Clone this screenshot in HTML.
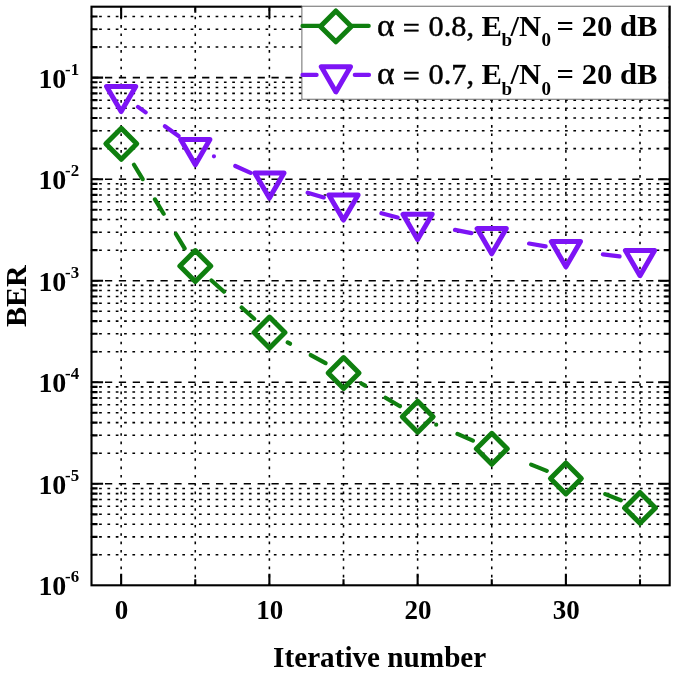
<!DOCTYPE html>
<html><head><meta charset="utf-8"><title>BER vs Iterative number</title>
<style>html,body{margin:0;padding:0;background:#fff}body{width:675px;height:674px;overflow:hidden}</style></head>
<body>
<svg width="675" height="674" viewBox="0 0 675 674" style="display:block">
<rect x="0" y="0" width="675" height="674" fill="#fff"/>
<g stroke="#000" fill="none">
<line x1="90.8" x2="669.7" y1="554.74" y2="554.74" stroke-width="1.55" stroke-dasharray="2.7 5.62"/>
<line x1="90.8" x2="669.7" y1="536.86" y2="536.86" stroke-width="1.55" stroke-dasharray="2.7 5.62"/>
<line x1="90.8" x2="669.7" y1="524.17" y2="524.17" stroke-width="1.55" stroke-dasharray="2.7 5.62"/>
<line x1="90.8" x2="669.7" y1="514.33" y2="514.33" stroke-width="1.55" stroke-dasharray="2.7 5.62"/>
<line x1="90.8" x2="669.7" y1="506.29" y2="506.29" stroke-width="1.55" stroke-dasharray="2.7 5.62"/>
<line x1="90.8" x2="669.7" y1="499.50" y2="499.50" stroke-width="1.55" stroke-dasharray="2.7 5.62"/>
<line x1="90.8" x2="669.7" y1="493.61" y2="493.61" stroke-width="1.55" stroke-dasharray="2.7 5.62"/>
<line x1="90.8" x2="669.7" y1="488.42" y2="488.42" stroke-width="1.55" stroke-dasharray="2.7 5.62"/>
<line x1="91.1" x2="669.7" y1="483.77" y2="483.77" stroke-width="1.6" stroke-dasharray="7.25 6.625"/>
<line x1="90.8" x2="669.7" y1="453.21" y2="453.21" stroke-width="1.55" stroke-dasharray="2.7 5.62"/>
<line x1="90.8" x2="669.7" y1="435.33" y2="435.33" stroke-width="1.55" stroke-dasharray="2.7 5.62"/>
<line x1="90.8" x2="669.7" y1="422.64" y2="422.64" stroke-width="1.55" stroke-dasharray="2.7 5.62"/>
<line x1="90.8" x2="669.7" y1="412.80" y2="412.80" stroke-width="1.55" stroke-dasharray="2.7 5.62"/>
<line x1="90.8" x2="669.7" y1="404.76" y2="404.76" stroke-width="1.55" stroke-dasharray="2.7 5.62"/>
<line x1="90.8" x2="669.7" y1="397.97" y2="397.97" stroke-width="1.55" stroke-dasharray="2.7 5.62"/>
<line x1="90.8" x2="669.7" y1="392.08" y2="392.08" stroke-width="1.55" stroke-dasharray="2.7 5.62"/>
<line x1="90.8" x2="669.7" y1="386.89" y2="386.89" stroke-width="1.55" stroke-dasharray="2.7 5.62"/>
<line x1="91.1" x2="669.7" y1="382.24" y2="382.24" stroke-width="1.6" stroke-dasharray="7.25 6.625"/>
<line x1="90.8" x2="669.7" y1="351.68" y2="351.68" stroke-width="1.55" stroke-dasharray="2.7 5.62"/>
<line x1="90.8" x2="669.7" y1="333.80" y2="333.80" stroke-width="1.55" stroke-dasharray="2.7 5.62"/>
<line x1="90.8" x2="669.7" y1="321.11" y2="321.11" stroke-width="1.55" stroke-dasharray="2.7 5.62"/>
<line x1="90.8" x2="669.7" y1="311.27" y2="311.27" stroke-width="1.55" stroke-dasharray="2.7 5.62"/>
<line x1="90.8" x2="669.7" y1="303.23" y2="303.23" stroke-width="1.55" stroke-dasharray="2.7 5.62"/>
<line x1="90.8" x2="669.7" y1="296.44" y2="296.44" stroke-width="1.55" stroke-dasharray="2.7 5.62"/>
<line x1="90.8" x2="669.7" y1="290.55" y2="290.55" stroke-width="1.55" stroke-dasharray="2.7 5.62"/>
<line x1="90.8" x2="669.7" y1="285.36" y2="285.36" stroke-width="1.55" stroke-dasharray="2.7 5.62"/>
<line x1="91.1" x2="669.7" y1="280.71" y2="280.71" stroke-width="1.6" stroke-dasharray="7.25 6.625"/>
<line x1="90.8" x2="669.7" y1="250.15" y2="250.15" stroke-width="1.55" stroke-dasharray="2.7 5.62"/>
<line x1="90.8" x2="669.7" y1="232.27" y2="232.27" stroke-width="1.55" stroke-dasharray="2.7 5.62"/>
<line x1="90.8" x2="669.7" y1="219.58" y2="219.58" stroke-width="1.55" stroke-dasharray="2.7 5.62"/>
<line x1="90.8" x2="669.7" y1="209.74" y2="209.74" stroke-width="1.55" stroke-dasharray="2.7 5.62"/>
<line x1="90.8" x2="669.7" y1="201.70" y2="201.70" stroke-width="1.55" stroke-dasharray="2.7 5.62"/>
<line x1="90.8" x2="669.7" y1="194.91" y2="194.91" stroke-width="1.55" stroke-dasharray="2.7 5.62"/>
<line x1="90.8" x2="669.7" y1="189.02" y2="189.02" stroke-width="1.55" stroke-dasharray="2.7 5.62"/>
<line x1="90.8" x2="669.7" y1="183.83" y2="183.83" stroke-width="1.55" stroke-dasharray="2.7 5.62"/>
<line x1="91.1" x2="669.7" y1="179.18" y2="179.18" stroke-width="1.6" stroke-dasharray="7.25 6.625"/>
<line x1="90.8" x2="669.7" y1="148.62" y2="148.62" stroke-width="1.55" stroke-dasharray="2.7 5.62"/>
<line x1="90.8" x2="669.7" y1="130.74" y2="130.74" stroke-width="1.55" stroke-dasharray="2.7 5.62"/>
<line x1="90.8" x2="669.7" y1="118.05" y2="118.05" stroke-width="1.55" stroke-dasharray="2.7 5.62"/>
<line x1="90.8" x2="669.7" y1="108.21" y2="108.21" stroke-width="1.55" stroke-dasharray="2.7 5.62"/>
<line x1="90.8" x2="669.7" y1="100.17" y2="100.17" stroke-width="1.55" stroke-dasharray="2.7 5.62"/>
<line x1="90.8" x2="669.7" y1="93.38" y2="93.38" stroke-width="1.55" stroke-dasharray="2.7 5.62"/>
<line x1="90.8" x2="669.7" y1="87.49" y2="87.49" stroke-width="1.55" stroke-dasharray="2.7 5.62"/>
<line x1="90.8" x2="669.7" y1="82.30" y2="82.30" stroke-width="1.55" stroke-dasharray="2.7 5.62"/>
<line x1="91.1" x2="669.7" y1="77.65" y2="77.65" stroke-width="1.6" stroke-dasharray="7.25 6.625"/>
<line x1="90.8" x2="669.7" y1="47.09" y2="47.09" stroke-width="1.55" stroke-dasharray="2.7 5.62"/>
<line x1="90.8" x2="669.7" y1="29.21" y2="29.21" stroke-width="1.55" stroke-dasharray="2.7 5.62"/>
<line x1="90.8" x2="669.7" y1="16.52" y2="16.52" stroke-width="1.55" stroke-dasharray="2.7 5.62"/>
<line x1="121.15" x2="121.15" y1="585.8" y2="6.7" stroke-width="1.55" stroke-dasharray="2.6 5.73"/>
<line x1="195.27" x2="195.27" y1="585.8" y2="6.7" stroke-width="1.55" stroke-dasharray="2.6 5.73"/>
<line x1="269.39" x2="269.39" y1="585.8" y2="6.7" stroke-width="1.55" stroke-dasharray="2.6 5.73"/>
<line x1="343.51" x2="343.51" y1="585.8" y2="6.7" stroke-width="1.55" stroke-dasharray="2.6 5.73"/>
<line x1="417.64" x2="417.64" y1="585.8" y2="6.7" stroke-width="1.55" stroke-dasharray="2.6 5.73"/>
<line x1="491.76" x2="491.76" y1="585.8" y2="6.7" stroke-width="1.55" stroke-dasharray="2.6 5.73"/>
<line x1="565.88" x2="565.88" y1="585.8" y2="6.7" stroke-width="1.55" stroke-dasharray="2.6 5.73"/>
<line x1="640.00" x2="640.00" y1="585.8" y2="6.7" stroke-width="1.55" stroke-dasharray="2.6 5.73"/>
</g>
<g stroke="#000" fill="none" stroke-width="2.1">
<rect x="91.5" y="6.7" width="578.2" height="578.5999999999999"/>
<path d="M91.5 554.74h6.0M669.7 554.74h-6.0"/>
<path d="M91.5 536.86h6.0M669.7 536.86h-6.0"/>
<path d="M91.5 524.17h6.0M669.7 524.17h-6.0"/>
<path d="M91.5 514.33h6.0M669.7 514.33h-6.0"/>
<path d="M91.5 506.29h6.0M669.7 506.29h-6.0"/>
<path d="M91.5 499.50h6.0M669.7 499.50h-6.0"/>
<path d="M91.5 493.61h6.0M669.7 493.61h-6.0"/>
<path d="M91.5 488.42h6.0M669.7 488.42h-6.0"/>
<path d="M91.5 483.77h11.6M669.7 483.77h-11.6"/>
<path d="M91.5 453.21h6.0M669.7 453.21h-6.0"/>
<path d="M91.5 435.33h6.0M669.7 435.33h-6.0"/>
<path d="M91.5 422.64h6.0M669.7 422.64h-6.0"/>
<path d="M91.5 412.80h6.0M669.7 412.80h-6.0"/>
<path d="M91.5 404.76h6.0M669.7 404.76h-6.0"/>
<path d="M91.5 397.97h6.0M669.7 397.97h-6.0"/>
<path d="M91.5 392.08h6.0M669.7 392.08h-6.0"/>
<path d="M91.5 386.89h6.0M669.7 386.89h-6.0"/>
<path d="M91.5 382.24h11.6M669.7 382.24h-11.6"/>
<path d="M91.5 351.68h6.0M669.7 351.68h-6.0"/>
<path d="M91.5 333.80h6.0M669.7 333.80h-6.0"/>
<path d="M91.5 321.11h6.0M669.7 321.11h-6.0"/>
<path d="M91.5 311.27h6.0M669.7 311.27h-6.0"/>
<path d="M91.5 303.23h6.0M669.7 303.23h-6.0"/>
<path d="M91.5 296.44h6.0M669.7 296.44h-6.0"/>
<path d="M91.5 290.55h6.0M669.7 290.55h-6.0"/>
<path d="M91.5 285.36h6.0M669.7 285.36h-6.0"/>
<path d="M91.5 280.71h11.6M669.7 280.71h-11.6"/>
<path d="M91.5 250.15h6.0M669.7 250.15h-6.0"/>
<path d="M91.5 232.27h6.0M669.7 232.27h-6.0"/>
<path d="M91.5 219.58h6.0M669.7 219.58h-6.0"/>
<path d="M91.5 209.74h6.0M669.7 209.74h-6.0"/>
<path d="M91.5 201.70h6.0M669.7 201.70h-6.0"/>
<path d="M91.5 194.91h6.0M669.7 194.91h-6.0"/>
<path d="M91.5 189.02h6.0M669.7 189.02h-6.0"/>
<path d="M91.5 183.83h6.0M669.7 183.83h-6.0"/>
<path d="M91.5 179.18h11.6M669.7 179.18h-11.6"/>
<path d="M91.5 148.62h6.0M669.7 148.62h-6.0"/>
<path d="M91.5 130.74h6.0M669.7 130.74h-6.0"/>
<path d="M91.5 118.05h6.0M669.7 118.05h-6.0"/>
<path d="M91.5 108.21h6.0M669.7 108.21h-6.0"/>
<path d="M91.5 100.17h6.0M669.7 100.17h-6.0"/>
<path d="M91.5 93.38h6.0M669.7 93.38h-6.0"/>
<path d="M91.5 87.49h6.0M669.7 87.49h-6.0"/>
<path d="M91.5 82.30h6.0M669.7 82.30h-6.0"/>
<path d="M91.5 77.65h11.6M669.7 77.65h-11.6"/>
<path d="M91.5 47.09h6.0M669.7 47.09h-6.0"/>
<path d="M91.5 29.21h6.0M669.7 29.21h-6.0"/>
<path d="M91.5 16.52h6.0M669.7 16.52h-6.0"/>
<path d="M121.15 585.3v-11.6M121.15 6.7v11.6"/>
<path d="M195.27 585.3v-6.0M195.27 6.7v6.0"/>
<path d="M269.39 585.3v-11.6M269.39 6.7v11.6"/>
<path d="M343.51 585.3v-6.0M343.51 6.7v6.0"/>
<path d="M417.64 585.3v-11.6M417.64 6.7v11.6"/>
<path d="M491.76 585.3v-6.0M491.76 6.7v6.0"/>
<path d="M565.88 585.3v-11.6M565.88 6.7v11.6"/>
<path d="M640.00 585.3v-6.0M640.00 6.7v6.0"/>
</g>
<path d="M184.63 248.38L175.94 234.01M163.65 213.74L154.96 199.37M142.67 179.09L133.98 164.72M254.16 318.75L241.66 307.54M224.00 291.72L211.50 280.51M325.52 363.12L310.79 355.06M289.99 343.70L287.67 342.43M399.96 406.24L385.49 397.70M365.07 385.66L361.44 383.52M472.90 440.61L457.49 433.93M436.21 424.72L436.22 424.72M546.78 470.84L531.19 464.59M620.85 500.30L605.25 494.11" stroke="#0f7f0f" stroke-width="4.2" stroke-linecap="round" fill="none"/>
<path d="M178.56 135.99L164.92 126.20M145.66 112.38L137.98 106.87M250.61 172.86L235.30 165.97M213.93 156.37L213.94 156.37M323.75 197.44L307.66 192.66M397.67 217.48L381.43 213.23M471.47 233.10L454.99 229.91M545.61 246.44L529.07 243.55M619.55 256.44L602.88 254.44" stroke="#7d14f5" stroke-width="4.2" stroke-linecap="round" fill="none"/>
<path d="M121.30 128.35L136.75 143.80L121.30 159.25L105.85 143.80Z" stroke="#0f7f0f" stroke-width="5" stroke-linejoin="round" fill="none"/>
<path d="M195.30 250.55L210.75 266.00L195.30 281.45L179.85 266.00Z" stroke="#0f7f0f" stroke-width="5" stroke-linejoin="round" fill="none"/>
<path d="M269.50 317.05L284.95 332.50L269.50 347.95L254.05 332.50Z" stroke="#0f7f0f" stroke-width="5" stroke-linejoin="round" fill="none"/>
<path d="M343.60 357.55L359.05 373.00L343.60 388.45L328.15 373.00Z" stroke="#0f7f0f" stroke-width="5" stroke-linejoin="round" fill="none"/>
<path d="M417.70 401.25L433.15 416.70L417.70 432.15L402.25 416.70Z" stroke="#0f7f0f" stroke-width="5" stroke-linejoin="round" fill="none"/>
<path d="M491.80 433.35L507.25 448.80L491.80 464.25L476.35 448.80Z" stroke="#0f7f0f" stroke-width="5" stroke-linejoin="round" fill="none"/>
<path d="M565.90 463.05L581.35 478.50L565.90 493.95L550.45 478.50Z" stroke="#0f7f0f" stroke-width="5" stroke-linejoin="round" fill="none"/>
<path d="M640.00 492.45L655.45 507.90L640.00 523.35L624.55 507.90Z" stroke="#0f7f0f" stroke-width="5" stroke-linejoin="round" fill="none"/>
<path d="M106.55 86.40L135.75 86.40L121.15 111.60Z" stroke="#7d14f5" stroke-width="5" stroke-linejoin="round" fill="none"/>
<path d="M180.70 139.60L209.90 139.60L195.30 164.80Z" stroke="#7d14f5" stroke-width="5" stroke-linejoin="round" fill="none"/>
<path d="M254.80 172.90L284.00 172.90L269.40 198.10Z" stroke="#7d14f5" stroke-width="5" stroke-linejoin="round" fill="none"/>
<path d="M328.90 194.90L358.10 194.90L343.50 220.10Z" stroke="#7d14f5" stroke-width="5" stroke-linejoin="round" fill="none"/>
<path d="M403.00 214.30L432.20 214.30L417.60 239.50Z" stroke="#7d14f5" stroke-width="5" stroke-linejoin="round" fill="none"/>
<path d="M477.10 228.60L506.30 228.60L491.70 253.80Z" stroke="#7d14f5" stroke-width="5" stroke-linejoin="round" fill="none"/>
<path d="M551.30 241.60L580.50 241.60L565.90 266.80Z" stroke="#7d14f5" stroke-width="5" stroke-linejoin="round" fill="none"/>
<path d="M625.40 250.50L654.60 250.50L640.00 275.70Z" stroke="#7d14f5" stroke-width="5" stroke-linejoin="round" fill="none"/>
<rect x="301.9" y="4" width="366.6" height="95.2" fill="#fff"/>
<rect x="301.9" y="6.2" width="366.6" height="93" fill="none" stroke="#505050" stroke-width="0.85"/>
<path d="M302.5 25.9H319.5M352.2 25.9H368.7" stroke="#0f7f0f" stroke-width="4.2" stroke-linecap="round" fill="none"/>
<path d="M335.85 10.95L351.30 26.40L335.85 41.85L320.40 26.40Z" stroke="#0f7f0f" stroke-width="5" stroke-linejoin="round" fill="none"/>
<path d="M302.5 74.9H316.6M354.8 74.9H369.0" stroke="#7d14f5" stroke-width="4.2" stroke-linecap="round" fill="none"/>
<path d="M321.30 66.70L350.50 66.70L335.90 91.90Z" stroke="#7d14f5" stroke-width="5" stroke-linejoin="round" fill="none"/>
<g font-family="Liberation Serif, Times New Roman, serif" fill="#000">
<text transform="scale(1.055 1)" y="35.7"><tspan x="357.35" dy="0" font-size="31.8" font-weight="normal" stroke="#000" stroke-width="0.45">α</tspan><tspan x="381.80" dy="2.3" font-size="28.7" font-weight="normal" stroke="#000" stroke-width="0.45">=</tspan><tspan x="406.26" dy="-2.3" font-size="28.7" font-weight="normal" stroke="#000" stroke-width="0.45">0.8,</tspan><tspan x="456.49" dy="0" font-size="29" font-weight="bold">E</tspan><tspan x="475.45" dy="10.8" font-size="18" font-weight="bold">b</tspan><tspan x="483.98" dy="-10.8" font-size="29" font-weight="bold">/N</tspan><tspan x="513.18" dy="10.8" font-size="18" font-weight="bold">0</tspan><tspan x="527.58" dy="-10.8" font-size="29" font-weight="bold">= 20 dB</tspan></text>
<text transform="scale(1.055 1)" y="84.2"><tspan x="357.35" dy="0" font-size="31.8" font-weight="normal" stroke="#000" stroke-width="0.45">α</tspan><tspan x="381.80" dy="2.3" font-size="28.7" font-weight="normal" stroke="#000" stroke-width="0.45">=</tspan><tspan x="406.26" dy="-2.3" font-size="28.7" font-weight="normal" stroke="#000" stroke-width="0.45">0.7,</tspan><tspan x="456.49" dy="0" font-size="29" font-weight="bold">E</tspan><tspan x="475.45" dy="10.8" font-size="18" font-weight="bold">b</tspan><tspan x="483.98" dy="-10.8" font-size="29" font-weight="bold">/N</tspan><tspan x="513.18" dy="10.8" font-size="18" font-weight="bold">0</tspan><tspan x="527.58" dy="-10.8" font-size="29" font-weight="bold">= 20 dB</tspan></text>
<text transform="translate(38.4 595.40) scale(1.035 1)" font-size="27" font-weight="bold">10<tspan dy="-13.2" dx="-1.2" font-size="16.3">-6</tspan></text>
<text transform="translate(38.4 493.87) scale(1.035 1)" font-size="27" font-weight="bold">10<tspan dy="-13.2" dx="-1.2" font-size="16.3">-5</tspan></text>
<text transform="translate(38.4 392.34) scale(1.035 1)" font-size="27" font-weight="bold">10<tspan dy="-13.2" dx="-1.2" font-size="16.3">-4</tspan></text>
<text transform="translate(38.4 290.81) scale(1.035 1)" font-size="27" font-weight="bold">10<tspan dy="-13.2" dx="-1.2" font-size="16.3">-3</tspan></text>
<text transform="translate(38.4 189.28) scale(1.035 1)" font-size="27" font-weight="bold">10<tspan dy="-13.2" dx="-1.2" font-size="16.3">-2</tspan></text>
<text transform="translate(38.4 87.75) scale(1.035 1)" font-size="27" font-weight="bold">10<tspan dy="-13.2" dx="-1.2" font-size="16.3">-1</tspan></text>
<text x="121.45" y="618.5" font-size="27" font-weight="bold" text-anchor="middle">0</text>
<text x="269.69" y="618.5" font-size="27" font-weight="bold" text-anchor="middle">10</text>
<text x="417.94" y="618.5" font-size="27" font-weight="bold" text-anchor="middle">20</text>
<text x="566.18" y="618.5" font-size="27" font-weight="bold" text-anchor="middle">30</text>
<text x="379.7" y="667.3" font-size="29.2" font-weight="bold" text-anchor="middle">Iterative number</text>
<text transform="translate(26 296.1) rotate(-90) scale(0.984 1)" font-size="30.5" font-weight="bold" text-anchor="middle">BER</text>
</g>
</svg>
</body></html>
